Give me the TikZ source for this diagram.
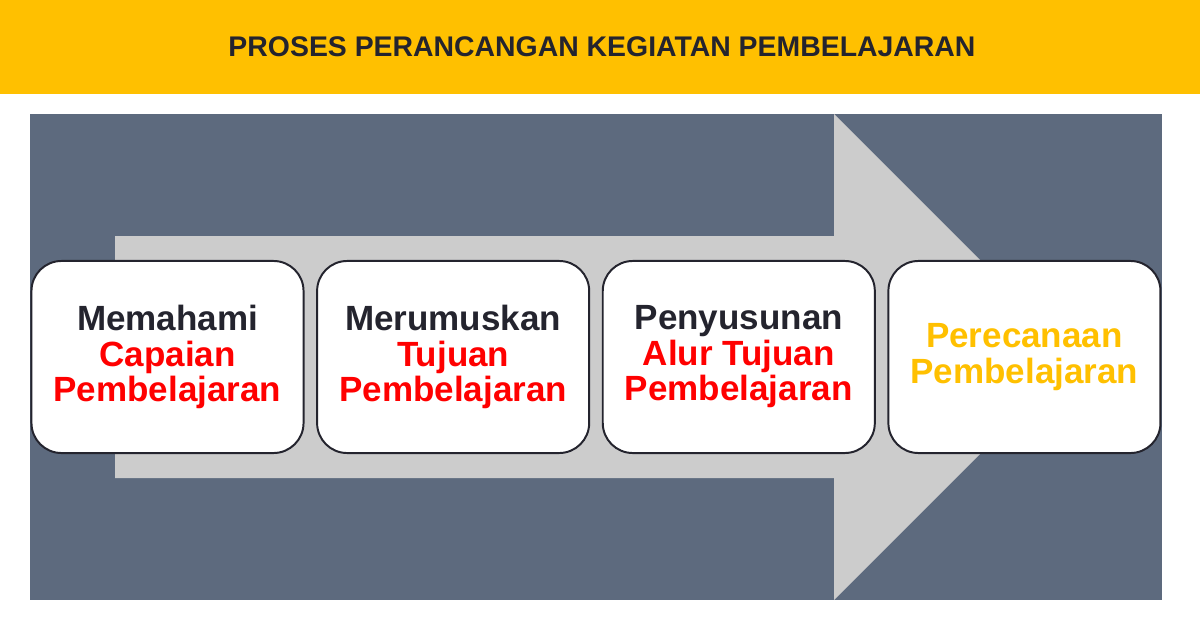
\documentclass[tikz,border=0pt]{standalone}
\usepackage{fontspec}
\setmainfont{Liberation Sans}
\usepackage{tikz}
\usetikzlibrary{positioning}
\definecolor{kuningtua}{HTML}{FFC000}
\definecolor{abubiru}{HTML}{5D6A7E}
\definecolor{abumuda}{HTML}{CCCCCC}
\definecolor{gelap}{HTML}{24242E}
\newcommand{\merah}[1]{\textcolor{red}{#1}}
\newcommand{\kuning}[1]{\textcolor{kuningtua}{#1}}

\begin{document}
\begin{tikzpicture}[x=0.025cm,y=-0.025cm,
    langkah/.style={draw=gelap,line width=1.4pt,fill=white,rounded corners=0.75cm,
      minimum width=6.8cm,minimum height=4.8cm,align=center,text=gelap,
      font=\fontsize{24.9}{25.2}\selectfont\bfseries},
    node distance=0.29cm]
      \useasboundingbox (0,0) rectangle (1200,643);
      \fill[kuningtua] (0,0) rectangle (1200,94);
      \node[text=gelap,font=\fontsize{20.2}{24}\selectfont\bfseries] (judul) at (602,47)
        {PROSES PERANCANGAN KEGIATAN PEMBELAJARAN};
      \fill[abubiru] (30,114) rectangle (1162,600);
      \fill[abumuda] (115,236) -- (834,236) -- (834,114) -- (1077,357)
        -- (834,600) -- (834,478) -- (115,478) -- cycle;
      \node[langkah] (cp) at (167.5,357) {Memahami\\\merah{Capaian}\\\merah{Pembelajaran}};
      \node[langkah,right=of cp] (tp) {Merumuskan\\\merah{Tujuan}\\\merah{Pembelajaran}};
      \node[langkah,right=of tp] (atp) {Penyusunan\\\merah{Alur Tujuan}\\\merah{Pembelajaran}};
      \node[langkah,right=of atp] (rp) {\kuning{Perecanaan}\\\kuning{Pembelajaran}};
    \end{tikzpicture}
\end{document}
